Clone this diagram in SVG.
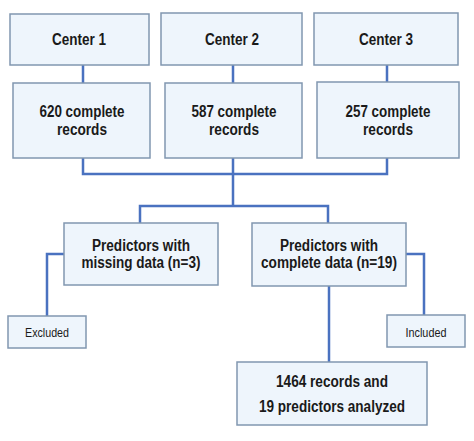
<svg xmlns="http://www.w3.org/2000/svg" width="474" height="441" viewBox="0 0 474 441">
<style>
.box{fill:#eef5fc;stroke:#8197b0;stroke-width:1.5}
.t{font-family:"Liberation Sans",Arial,sans-serif;font-weight:bold;font-size:16px;fill:#1a1a1a;text-anchor:middle}
.s{font-family:"Liberation Sans",Arial,sans-serif;font-size:13.5px;fill:#1a1a1a;text-anchor:middle}
.c{fill:none;stroke:#4a72c0;stroke-width:2.5}
</style>
<rect width="474" height="441" fill="#ffffff"/>
<g id="connectors">
<path class="c" d="M83 65V83M233 65V83M387 65V83"/>
<path class="c" d="M83 158V174H387V158M233 158V174"/>
<path class="c" d="M233 174V206M140 223V206H328V223"/>
<path class="c" d="M64 254H47V316"/>
<path class="c" d="M406 254H424V315"/>
<path class="c" d="M329 286V362"/>
</g>
<g id="center1"><rect class="box" x="10" y="14" width="139" height="51"/><text class="t" x="79" y="45" textLength="54" lengthAdjust="spacingAndGlyphs">Center 1</text></g>
<g id="center2"><rect class="box" x="161" y="13" width="141" height="52"/><text class="t" x="232" y="45" textLength="54" lengthAdjust="spacingAndGlyphs">Center 2</text></g>
<g id="center3"><rect class="box" x="314" y="13" width="144" height="52"/><text class="t" x="386" y="45" textLength="54" lengthAdjust="spacingAndGlyphs">Center 3</text></g>
<g id="records1"><rect class="box" x="13" y="83" width="137" height="75"/><text class="t" x="82" y="117" textLength="85" lengthAdjust="spacingAndGlyphs">620 complete</text><text class="t" x="82" y="135" textLength="50" lengthAdjust="spacingAndGlyphs">records</text></g>
<g id="records2"><rect class="box" x="165" y="83" width="137" height="75"/><text class="t" x="234" y="117" textLength="85" lengthAdjust="spacingAndGlyphs">587 complete</text><text class="t" x="234" y="135" textLength="50" lengthAdjust="spacingAndGlyphs">records</text></g>
<g id="records3"><rect class="box" x="317" y="82" width="142" height="76"/><text class="t" x="388" y="117" textLength="85" lengthAdjust="spacingAndGlyphs">257 complete</text><text class="t" x="388" y="135" textLength="50" lengthAdjust="spacingAndGlyphs">records</text></g>
<g id="missing"><rect class="box" x="64" y="223" width="154" height="62"/><text class="t" x="141" y="251" textLength="98" lengthAdjust="spacingAndGlyphs">Predictors with</text><text class="t" x="141" y="268" textLength="119" lengthAdjust="spacingAndGlyphs">missing data (n=3)</text></g>
<g id="complete"><rect class="box" x="252" y="223" width="154" height="63"/><text class="t" x="329" y="251" textLength="98" lengthAdjust="spacingAndGlyphs">Predictors with</text><text class="t" x="329" y="268" textLength="136" lengthAdjust="spacingAndGlyphs">complete data (n=19)</text></g>
<g id="excluded"><rect class="box" x="8" y="316" width="78" height="32"/><text class="s" x="47" y="337" textLength="44" lengthAdjust="spacingAndGlyphs">Excluded</text></g>
<g id="included"><rect class="box" x="387" y="315" width="78" height="32"/><text class="s" x="426" y="337" textLength="41" lengthAdjust="spacingAndGlyphs">Included</text></g>
<g id="analyzed"><rect class="box" x="237" y="362" width="190" height="63"/><text class="t" x="332" y="387" textLength="112" lengthAdjust="spacingAndGlyphs">1464 records and</text><text class="t" x="332" y="412" textLength="146" lengthAdjust="spacingAndGlyphs">19 predictors analyzed</text></g>
</svg>
